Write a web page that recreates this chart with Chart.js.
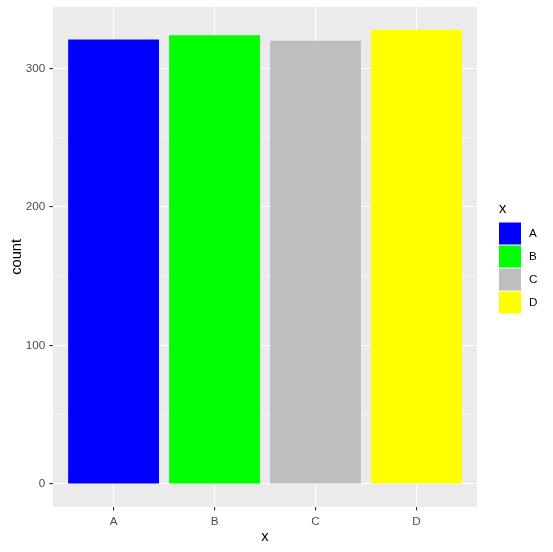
<!DOCTYPE html>
<html lang="en">
<head>
    <meta charset="UTF-8">
    <title>count by x</title>
    <script src="https://cdn.jsdelivr.net/npm/chart.js@4.4.1/dist/chart.umd.min.js"></script>
    <style>
      html, body { margin: 0; padding: 0; background: #ffffff; }
    </style>
    <script>
      const categories = ['A', 'B', 'C', 'D']
      const counts = [321, 324, 320, 328]
      const fillColors = ['#0000FF', '#00FF00', '#BEBEBE', '#FFFF00']
      const yTicks = [0, 50, 100, 150, 200, 250, 300]
      const legendTitle = 'x'

      const fontFamily = "'Liberation Sans', Arial, sans-serif"

      // grey panel behind the grid, like ggplot's theme_grey
      const panelBackground = {
        id: 'panelBackground',
        beforeDraw(chart) {
          const { ctx, chartArea } = chart
          ctx.save()
          ctx.fillStyle = '#EBEBEB'
          ctx.fillRect(chartArea.left, chartArea.top, chartArea.right - chartArea.left, chartArea.bottom - chartArea.top)
          ctx.restore()
        }
      }

      // fill legend on the right
      const fillLegend = {
        id: 'fillLegend',
        afterDraw(chart) {
          const ctx = chart.ctx
          const left = 499
          const keySize = 23
          const firstKey = 222
          ctx.save()
          ctx.fillStyle = '#000000'
          ctx.font = '14.7px ' + fontFamily
          ctx.textAlign = 'left'
          ctx.textBaseline = 'middle'
          ctx.fillText(legendTitle, left, 209)
          ctx.font = '11.7px ' + fontFamily
          categories.forEach((cat, i) => {
            const y = firstKey + i * keySize
            ctx.fillStyle = fillColors[i]
            ctx.fillRect(left, y + 0.5, 22, 22)
            ctx.fillStyle = '#000000'
            ctx.fillText(cat, left + 30, y + keySize / 2)
          })
          ctx.restore()
        }
      }

      window.onload = function() {
        const ctx = document.getElementById('chart').getContext('2d')
        const top = Math.max(...counts)

        const chart = new Chart(ctx, {
          type: 'bar',
          data: {
            datasets: [{
              label: 'count',
              data: counts.map((c, i) => ({ x: i + 1, y: c })),
              backgroundColor: fillColors,
              borderWidth: 0,
              barPercentage: 0.9,
              categoryPercentage: 1
            }]
          },
          options: {
            responsive: false,
            animation: false,
            layout: { padding: { top: 7, right: 76, left: 0, bottom: 0 } },
            plugins: {
              legend: { display: false },
              tooltip: { enabled: false }
            },
            scales: {
              x: {
                type: 'linear',
                offset: false,
                min: 0.4,
                max: categories.length + 0.6,
                afterBuildTicks: (scale) => { scale.ticks = categories.map((c, i) => ({ value: i + 1 })) },
                afterFit: (scale) => {
                  scale.height = 45.3
                  scale.paddingLeft = 0
                  scale.paddingRight = 0
                },
                border: { display: false },
                grid: {
                  offset: false,
                  color: '#FFFFFF',
                  lineWidth: 1.1,
                  tickColor: '#333333',
                  tickWidth: 1.1,
                  tickLength: 3.7
                },
                ticks: {
                  padding: 4,
                  color: '#4D4D4D',
                  font: { family: fontFamily, size: 11.7 },
                  maxRotation: 0,
                  callback: (v) => categories[v - 1]
                },
                title: {
                  display: true,
                  text: 'x',
                  color: '#000000',
                  font: { family: fontFamily, size: 14.7 },
                  padding: { top: 0, bottom: 6.6 }
                }
              },
              y: {
                min: -0.05 * top,
                max: 1.05 * top,
                afterBuildTicks: (scale) => { scale.ticks = yTicks.map(v => ({ value: v })) },
                afterFit: (scale) => {
                  scale.width = 53
                  scale.paddingTop = 0
                  scale.paddingBottom = 0
                },
                border: { display: false },
                grid: {
                  color: '#FFFFFF',
                  lineWidth: (c) => (c.tick && c.tick.value % 100 === 0) ? 1.1 : 0.55,
                  tickColor: (c) => (c.tick && c.tick.value % 100 === 0) ? '#333333' : 'rgba(0,0,0,0)',
                  tickWidth: 1.1,
                  tickLength: 3.7
                },
                ticks: {
                  padding: 4,
                  color: '#4D4D4D',
                  font: { family: fontFamily, size: 11.7 },
                  callback: (v) => (v % 100 === 0 ? v : '')
                },
                title: {
                  display: true,
                  text: 'count',
                  color: '#000000',
                  font: { family: fontFamily, size: 14.7 },
                  padding: { top: 8, bottom: 0 }
                }
              }
            }
          },
          plugins: [panelBackground, fillLegend]
        })
      }
    </script>
</head>
<body>
<canvas id="chart" width="553" height="552"></canvas>
</body>
</html>
